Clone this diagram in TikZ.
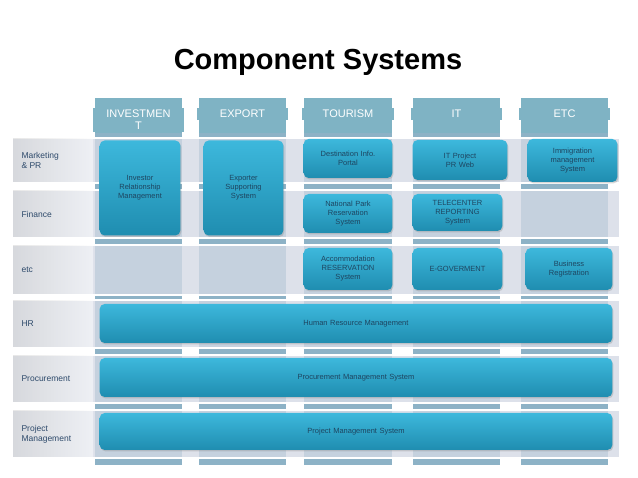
\documentclass[tikz,border=0pt]{standalone}
\usepackage{fontspec}
\setmainfont{Liberation Sans}
\usetikzlibrary{shadows}
\definecolor{hdr}{HTML}{7FB3C4}
\definecolor{colb}{HTML}{8DB2C6}
\definecolor{rowc}{HTML}{DDE2EF}
\definecolor{lbl}{HTML}{2E4A6B}
\definecolor{btop}{HTML}{3DB8DC}
\definecolor{bbot}{HTML}{1F8DB0}
\definecolor{btxt}{HTML}{1E4560}
\tikzset{
 colbody/.style={fill=colb,draw=none},
 colhdr/.style={fill=hdr,draw=none,text=white,font=\fontsize{11}{12}\selectfont,align=center,anchor=north,inner sep=2pt},
 rowband/.style={fill=rowc,fill opacity=0.72,draw=white,line width=1.2pt,drop shadow={opacity=0.25,shadow xshift=1pt,shadow yshift=-1pt}},
 rowlbl/.style={text=lbl,font=\fontsize{8.5}{10}\selectfont,align=left,anchor=west},
 sysbox/.style={rounded corners=5pt,top color=btop,bottom color=bbot,draw=none,text=btxt,font=\fontsize{7.5}{9}\selectfont,align=center,drop shadow={opacity=0.3,shadow xshift=1pt,shadow yshift=-1.5pt}}
}
\newcommand\sysnode[6]{\node[sysbox,minimum width=#3pt,minimum height=#4pt,text width=#3pt-6pt] (#6) at (#1,#2) {#5};}
\begin{document}
\begin{tikzpicture}[x=1pt,y=-1pt]
\useasboundingbox (0,0) rectangle (638,478);
\fill[white] (0,0) rectangle (638,478);
\node[font=\bfseries\fontsize{29}{32}\selectfont,text=black] (title) at (318,62) {Component Systems};
% columns
\foreach \cx/\cw/\ct/\cn in {95/87/INVESTMEN\\T/ci,199/87/EXPORT/ce,304/88/TOURISM/ct,413/87/IT/cit,521/87/ETC/cetc}{
  \fill[colbody] (\cx,133) rectangle ++(\cw,332);
  \fill[hdr] (\cx,98) rectangle ++(\cw,35);
  \node[colhdr,text width=\cw pt] (\cn) at (\cx+\cw/2,108) {\ct};
}
% rows
\foreach \ry/\rh/\rt/\rn in {138/45/Marketing\\\& PR/r1,190/48/Finance/r2,245/50/etc/r3,300/48/HR/r4,355/48/Procurement/r5,410/48/Project\\Management/r6}{
  \path[rowband] (12,\ry) rectangle ++(608,\rh);
  \shade[left color=black!18,right color=white,opacity=0.5] (13,\ry+1) rectangle ++(80,\rh-2);
  \node[rowlbl] (\rn) at (18,\ry+\rh/2) {\rt};
}
% boxes
\sysnode{140}{188}{80}{95}{Investor\\Relationship\\Management}{b1}
\sysnode{243.5}{188}{79}{95}{Exporter\\Supporting\\System}{b2}
\sysnode{348}{158.5}{88}{39}{Destination Info.\\Portal}{b3}
\sysnode{460}{160}{94}{40}{IT Project\\PR Web}{b4}
\sysnode{572.5}{160.5}{89}{43}{Immigration\\management\\System}{b5}
\sysnode{348}{213.5}{88}{39}{National Park\\Reservation\\System}{b6}
\sysnode{457.5}{212.5}{89}{37}{TELECENTER\\REPORTING\\System}{b7}
\sysnode{348}{269}{88}{42}{Accommodation\\RESERVATION\\System}{b8}
\sysnode{457.5}{269}{89}{42}{E-GOVERMENT}{b9}
\sysnode{569}{269}{86}{42}{Business\\Registration}{b10}
\sysnode{356}{323.5}{512}{39}{Human Resource Management}{b11}
\sysnode{356}{377.5}{512}{39}{Procurement Management System}{b12}
\sysnode{356}{431.5}{512}{37}{Project Management System}{b13}
\end{tikzpicture}
\end{document}
